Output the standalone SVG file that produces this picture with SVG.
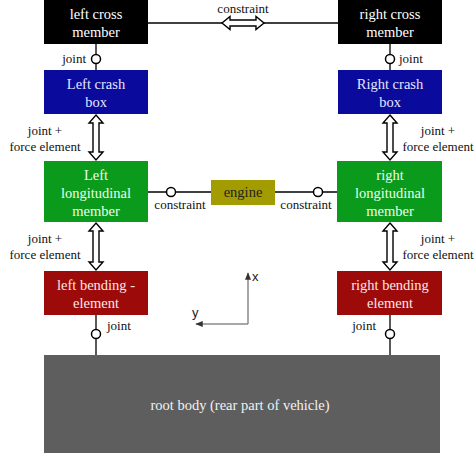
<svg xmlns="http://www.w3.org/2000/svg" width="474" height="472" viewBox="0 0 474 472">
<defs>
<style>
.bt{font-family:'Liberation Serif','DejaVu Serif',serif;font-size:14.5px;text-anchor:middle}
.lb{font-family:'Liberation Serif','DejaVu Serif',serif;font-size:13px;fill:#111}
.ln{stroke:#000;stroke-width:1.3;fill:none}
.jt{fill:#fff;stroke:#000;stroke-width:1.5}
.da{fill:#fff;stroke:#000;stroke-width:1.4;stroke-linejoin:miter}
.ax{stroke:#8a8a8a;stroke-width:1.5;fill:none}
.axt{font-family:'Liberation Sans',Arial,sans-serif;font-size:13px;fill:#222}
</style>
<marker id="ah" viewBox="0 0 10 10" refX="9" refY="5" markerWidth="5" markerHeight="5" orient="auto"><path d="M0,1 L10,5 L0,9 Z" fill="#333"/></marker>
</defs>
<rect width="474" height="472" fill="#fff"/>
<g id="connectors">
<line class="ln" x1="148" y1="23" x2="338" y2="23"/>
<polygon class="da" points="222,23 230,16.5 230,20 256,20 256,16.5 264,23 256,29.5 256,26 230,26 230,29.5"/>
<text class="lb" x="243" y="13" text-anchor="middle">constraint</text>
<line class="ln" x1="96" y1="44" x2="96" y2="70"/>
<circle class="jt" cx="96" cy="59" r="4.5"/>
<text class="lb" x="86" y="63" text-anchor="end">joint</text>
<line class="ln" x1="390" y1="44" x2="390" y2="70"/>
<circle class="jt" cx="390" cy="59" r="4.5"/>
<text class="lb" x="399" y="63">joint</text>
<polygon class="da" points="96,115 103,123 99,123 99,152 103,152 96,160 89,152 93,152 93,123 89,123"/>
<text class="lb" x="45" y="135" text-anchor="middle">joint +</text>
<text class="lb" x="45" y="151" text-anchor="middle">force element</text>
<polygon class="da" points="390,115 397,123 393,123 393,152 397,152 390,160 383,152 387,152 387,123 383,123"/>
<text class="lb" x="438" y="135" text-anchor="middle">joint +</text>
<text class="lb" x="438" y="151" text-anchor="middle">force element</text>
<line class="ln" x1="148" y1="192" x2="211" y2="192"/>
<circle class="jt" cx="171" cy="192" r="4.5"/>
<text class="lb" x="180" y="209" text-anchor="middle">constraint</text>
<line class="ln" x1="275" y1="192" x2="337" y2="192"/>
<circle class="jt" cx="318" cy="192" r="4.5"/>
<text class="lb" x="306" y="209" text-anchor="middle">constraint</text>
<polygon class="da" points="96,223 103,231 99,231 99,262 103,262 96,270 89,262 93,262 93,231 89,231"/>
<text class="lb" x="45" y="243" text-anchor="middle">joint +</text>
<text class="lb" x="45" y="259" text-anchor="middle">force element</text>
<polygon class="da" points="390,223 397,231 393,231 393,262 397,262 390,270 383,262 387,262 387,231 383,231"/>
<text class="lb" x="438" y="243" text-anchor="middle">joint +</text>
<text class="lb" x="438" y="259" text-anchor="middle">force element</text>
<line class="ln" x1="96" y1="315" x2="96" y2="355"/>
<circle class="jt" cx="96" cy="334" r="4.5"/>
<text class="lb" x="107" y="330">joint</text>
<line class="ln" x1="390" y1="315" x2="390" y2="355"/>
<circle class="jt" cx="390" cy="334" r="4.5"/>
<text class="lb" x="376" y="330" text-anchor="end">joint</text>
</g>
<g id="left-cross-member"><rect x="44" y="0" width="104" height="44" fill="#000"/><text class="bt" x="96" y="19" fill="#fff">left cross</text><text class="bt" x="96" y="37" fill="#fff">member</text></g>
<g id="right-cross-member"><rect x="338" y="0" width="104" height="44" fill="#000"/><text class="bt" x="390" y="19" fill="#fff">right cross</text><text class="bt" x="390" y="37" fill="#fff">member</text></g>
<g id="left-crash-box"><rect x="44" y="70" width="104" height="44" fill="#0a0a9c"/><text class="bt" x="96" y="89" fill="#e6e6ff">Left crash</text><text class="bt" x="96" y="107" fill="#e6e6ff">box</text></g>
<g id="right-crash-box"><rect x="338" y="70" width="104" height="44" fill="#0a0a9c"/><text class="bt" x="390" y="89" fill="#e6e6ff">Right crash</text><text class="bt" x="390" y="107" fill="#e6e6ff">box</text></g>
<g id="left-longitudinal"><rect x="44" y="161" width="104" height="61" fill="#0a9a1c"/><text class="bt" x="96" y="180" fill="#eaffea">Left</text><text class="bt" x="96" y="198" fill="#eaffea">longitudinal</text><text class="bt" x="96" y="216" fill="#eaffea">member</text></g>
<g id="right-longitudinal"><rect x="337" y="161" width="105" height="61" fill="#0a9a1c"/><text class="bt" x="390" y="180" fill="#eaffea">right</text><text class="bt" x="390" y="198" fill="#eaffea">longitudinal</text><text class="bt" x="390" y="216" fill="#eaffea">member</text></g>
<g id="engine"><rect x="211" y="180" width="64" height="25" fill="#a39c00"/><text class="bt" x="243" y="197" fill="#222">engine</text></g>
<g id="left-bending"><rect x="44" y="271" width="104" height="44" fill="#9c0a0a"/><text class="bt" x="96" y="290" fill="#ffe6e6">left bending -</text><text class="bt" x="96" y="308" fill="#ffe6e6">element</text></g>
<g id="right-bending"><rect x="337" y="271" width="105" height="44" fill="#9c0a0a"/><text class="bt" x="390" y="290" fill="#ffe6e6">right bending</text><text class="bt" x="390" y="308" fill="#ffe6e6">element</text></g>
<g id="root-body"><rect x="44" y="355" width="396" height="98" fill="#5e5e5e"/><text class="bt" x="240" y="410" fill="#f2f2f2">root body (rear part of vehicle)</text></g>
<g id="axes">
<polyline class="ax" points="248,324 248,273" marker-end="url(#ah)"/>
<polyline class="ax" points="248,324 196,324" marker-end="url(#ah)"/>
<text class="axt" x="252" y="281">x</text>
<text class="axt" x="192" y="317">y</text>
</g>
</svg>
